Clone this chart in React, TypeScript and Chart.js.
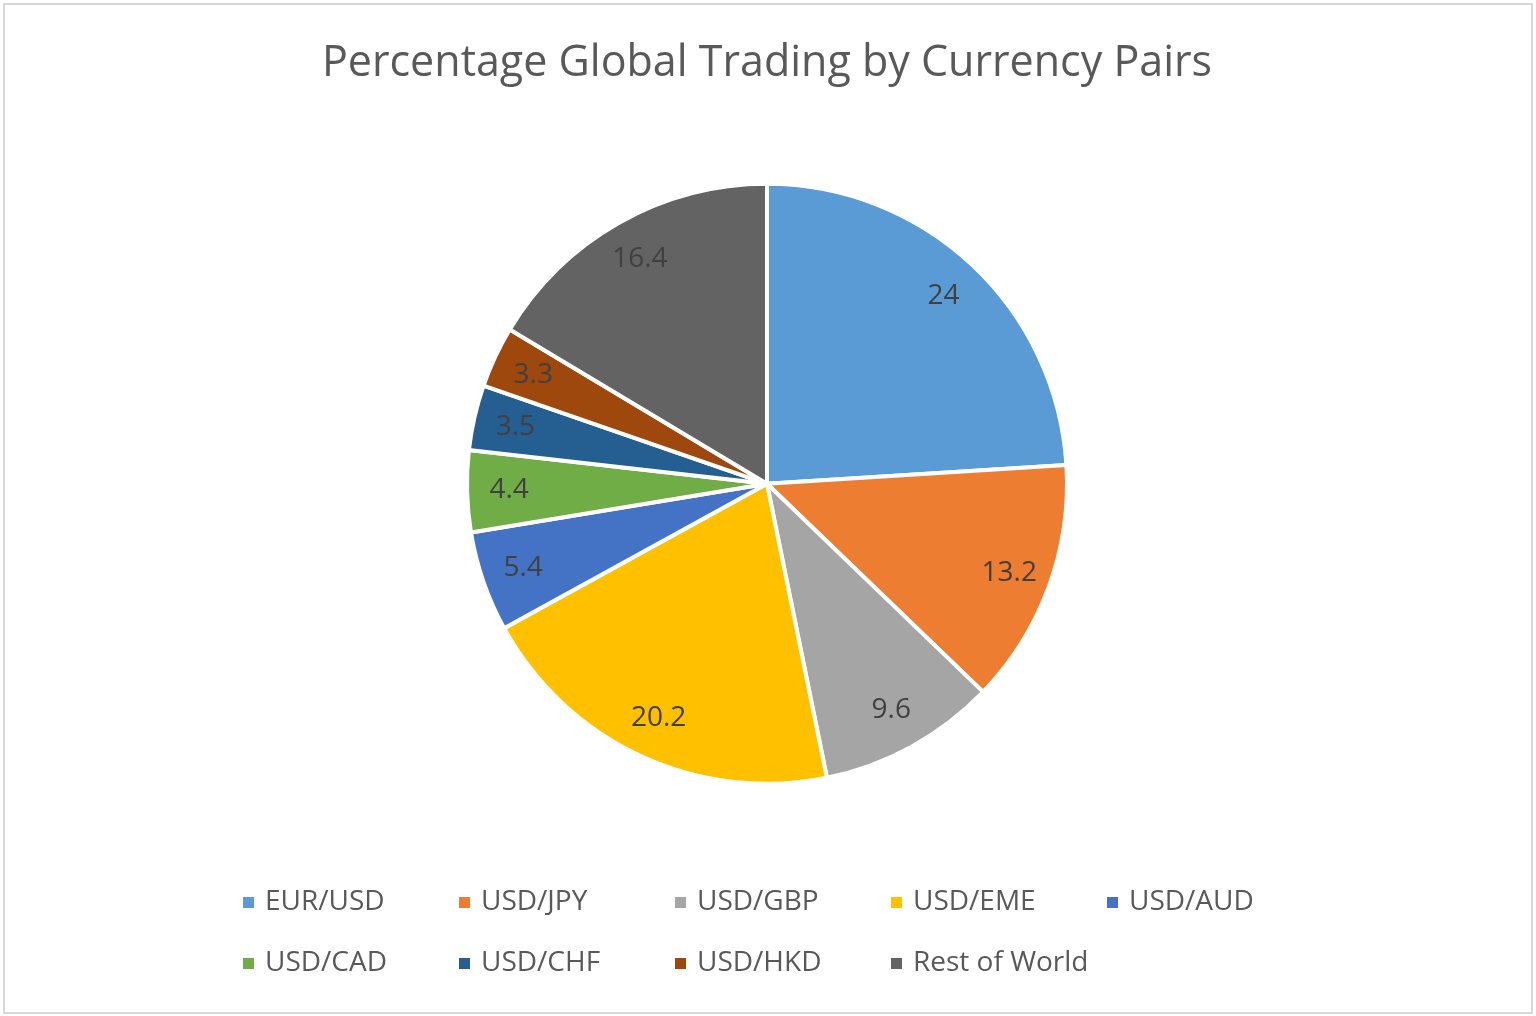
import { useEffect, useRef } from 'react';
import { Chart, registerables } from 'chart.js';
import type { Plugin } from 'chart.js';

// Register all Chart.js components
Chart.register(...registerables);

const pairs = [
  'EUR/USD',
  'USD/JPY',
  'USD/GBP',
  'USD/EME',
  'USD/AUD',
  'USD/CAD',
  'USD/CHF',
  'USD/HKD',
  'Rest of World',
];
const shares = [24, 13.2, 9.6, 20.2, 5.4, 4.4, 3.5, 3.3, 16.4];
const sliceColors = [
  '#5B9BD5',
  '#ED7D31',
  '#A5A5A5',
  '#FFC000',
  '#4472C4',
  '#70AD47',
  '#255E91',
  '#9E480E',
  '#636363',
];

const FONT = '"Open Sans", "Noto Sans", sans-serif';

// White background plus the thin grey frame around the chart
const framePlugin: Plugin<'pie'> = {
  id: 'frame',
  beforeDraw(chart) {
    const { ctx, width, height } = chart;
    ctx.save();
    ctx.fillStyle = '#ffffff';
    ctx.fillRect(0, 0, width, height);
    ctx.strokeStyle = '#d9d9d9';
    ctx.lineWidth = 2;
    ctx.strokeRect(4, 4, width - 8, height - 7);
    ctx.restore();
  },
};

// Value labels inside each slice
const sliceLabelPlugin: Plugin<'pie'> = {
  id: 'sliceLabels',
  afterDatasetsDraw(chart) {
    const { ctx } = chart;
    const meta = chart.getDatasetMeta(0);
    const values = chart.data.datasets[0].data as number[];
    ctx.save();
    ctx.font = `28px ${FONT}`;
    ctx.fillStyle = '#404040';
    ctx.textAlign = 'center';
    ctx.textBaseline = 'middle';
    meta.data.forEach((arc, i) => {
      const { x, y, startAngle, endAngle, outerRadius } = arc.getProps(
        ['x', 'y', 'startAngle', 'endAngle', 'outerRadius'],
        true
      ) as any;
      const mid = (startAngle + endAngle) / 2;
      const r = outerRadius * 0.86;
      ctx.fillText(String(values[i]), x + Math.cos(mid) * r, y + Math.sin(mid) * r);
    });
    ctx.restore();
  },
};

// Legend laid out in fixed columns, two rows, like the spreadsheet legend
const gridLegendPlugin: Plugin<'pie'> = {
  id: 'gridLegend',
  afterDraw(chart) {
    const { ctx } = chart;
    const labels = chart.data.labels as string[];
    const colors = chart.data.datasets[0].backgroundColor as string[];
    const perRow = 5;
    const left = 243;
    const colWidth = 216;
    const top = 902;
    const rowHeight = 61;
    ctx.save();
    ctx.font = `28px ${FONT}`;
    ctx.textBaseline = 'middle';
    labels.forEach((label, i) => {
      const col = i % perRow;
      const row = Math.floor(i / perRow);
      const x = left + col * colWidth;
      const y = top + row * rowHeight;
      ctx.fillStyle = colors[i];
      ctx.fillRect(x, y - 5, 11, 11);
      ctx.fillStyle = '#595959';
      ctx.fillText(label, x + 22, y);
    });
    ctx.restore();
  },
};

export default function App() {
  const chartRef = useRef<HTMLCanvasElement>(null);
  const chartInstance = useRef<Chart<'pie'> | null>(null);

  useEffect(() => {
    document.body.style.margin = '0';
    if (!chartRef.current) return;
    const ctx = chartRef.current.getContext('2d');
    if (!ctx) return;

    if (chartInstance.current) {
      chartInstance.current.destroy();
    }

    chartInstance.current = new Chart(ctx, {
      type: 'pie',
      data: {
        labels: pairs,
        datasets: [
          {
            data: shares,
            backgroundColor: sliceColors,
            borderColor: '#ffffff',
            borderWidth: 4,
            hoverOffset: 0,
            radius: 300,
          },
        ],
      },
      options: {
        animation: false,
        responsive: true,
        maintainAspectRatio: false,
        layout: {
          padding: { top: 0, bottom: 198, left: 0, right: 2 },
        },
        plugins: {
          legend: { display: false },
          tooltip: { enabled: false },
          title: {
            display: true,
            text: 'Percentage Global Trading by Currency Pairs',
            color: '#595959',
            font: { family: FONT, size: 43, weight: 'normal' },
            padding: { top: 38, bottom: 60 },
          },
        },
      },
      plugins: [framePlugin, sliceLabelPlugin, gridLegendPlugin],
    });

    return () => {
      if (chartInstance.current) {
        chartInstance.current.destroy();
        chartInstance.current = null;
      }
    };
  }, []);

  return (
    <div style={{ width: 1536, height: 1016, position: 'relative' }}>
      <canvas ref={chartRef} />
    </div>
  );
}
